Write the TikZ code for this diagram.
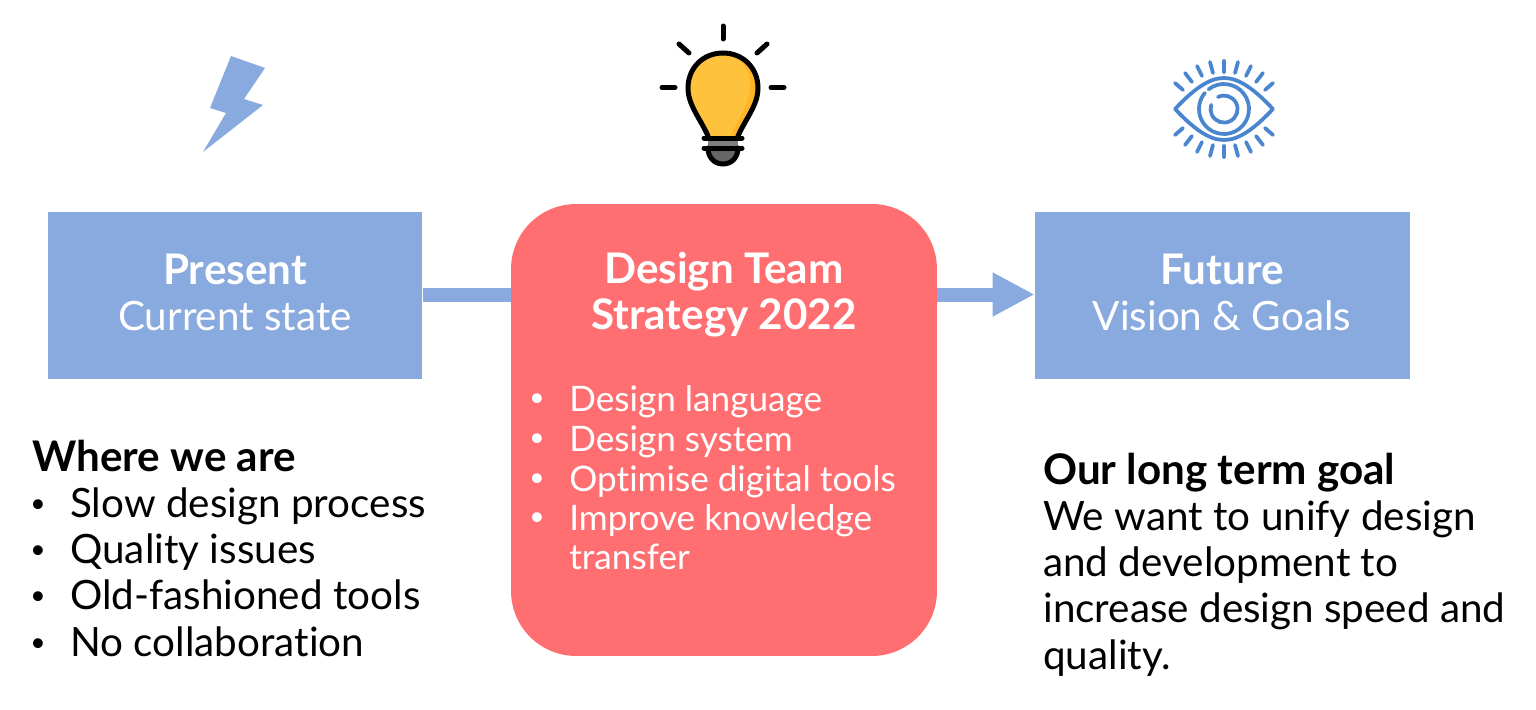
\documentclass[tikz,border=0pt]{standalone}
\usepackage{fontspec}
\setmainfont{Lato}[Ligatures=NoCommon]
\usetikzlibrary{arrows.meta, calc}
\definecolor{boxblue}{HTML}{88AADF}
\definecolor{stratcoral}{HTML}{FF6F72}
\definecolor{bulbyellow}{HTML}{FFC23C}
\definecolor{bulbshade}{HTML}{FFB326}
\definecolor{eyeblue}{HTML}{4A86D0}
\tikzset{
  bluebox/.style={fill=boxblue, minimum width=7.5cm, minimum height=3.34cm, inner sep=0pt},
  boxlabel/.style={anchor=base, inner sep=0pt, text=white, align=center, font=\fontsize{23}{26}\selectfont},
  stratbox/.style={fill=stratcoral, rounded corners=1.3cm, minimum width=8.52cm, minimum height=9.04cm, inner sep=0pt},
  flowline/.style={boxblue, line width=0.28cm},
  bodytext/.style={anchor=base west, inner sep=0pt, font=\fontsize{23}{23}\selectfont},
  headtext/.style={bodytext, font=\fontsize{24}{24}\selectfont\bfseries},
  bodydot/.style={anchor=base, inner sep=0pt, yshift=0.1cm, font=\fontsize{15}{15}\selectfont},
  whitetext/.style={anchor=base west, inner sep=0pt, text=white, font=\fontsize{20}{20}\selectfont},
  whitedot/.style={bodydot, text=white},
  bulbline/.style={black, line width=0.1cm, line cap=round},
  eyeline/.style={eyeblue, line width=0.075cm, line cap=round}
}

\begin{document}
\begin{tikzpicture}[x=0.02cm, y=-0.02cm]
  \useasboundingbox (0,0) rectangle (1536,710);

  % Boxes
  \node[bluebox] (present) at (235,295.5) {};
  \node[bluebox] (future) at (1222.5,295.5) {};
  \node[stratbox] (strategy) at (724,430) {};
  \coordinate (flowlevel) at (0,294.5);

  % Connectors
  \draw[flowline] (present.east |- flowlevel) -- (strategy.west |- flowlevel);
  \draw[flowline, -{Triangle[length=0.84cm, width=0.82cm]}] (strategy.east |- flowlevel) -- (future.west |- flowlevel);

  % Box labels
  \node[boxlabel] (presentlabel) at (235,330.5) {{\fontsize{24}{26}\selectfont\bfseries Present}\\Current state};
  \node[boxlabel] (futurelabel) at (1222,330.5) {{\fontsize{24}{26}\selectfont\bfseries Future}\\Vision \& Goals};

  % Middle box text
  \node[anchor=base, inner sep=0pt, text=white, align=center, font=\fontsize{24}{26}\selectfont\bfseries] (strategytitle) at (724,329) {Design Team\\Strategy 2022};
  \foreach \i/\ypos/\txt in {1/411/Design language, 2/451/Design system, 3/491/Optimise digital tools, 4/530/Improve knowledge} {
    \node[whitedot] (stratdot\i) at (537,\ypos) {•};
    \node[whitetext] (stratitem\i) at (569,\ypos) {\txt};
  }
  \node[whitetext] (stratitem5) at (569,569) {transfer};

  % Left text
  \node[headtext] (lefthead) at (32,471) {Where we are};
  \foreach \i/\ypos/\txt in {1/517/Slow design process, 2/563/Quality issues, 3/609/Old-fashioned tools, 4/656/No collaboration} {
    \node[bodydot] (leftdot\i) at (38,\ypos) {•};
    \node[bodytext] (leftitem\i) at (70,\ypos) {\txt};
  }

  % Right text
  \node[headtext] (righthead) at (1043,484) {Our long term goal};
  \foreach \i/\ypos/\txt in {1/530/We want to unify design, 2/576/and development to, 3/622/increase design speed and, 4/669/quality.} {
    \node[bodytext] (rightline\i) at (1043,\ypos) {\txt};
  }

  % Lightning icon
  \fill[boxblue] (231,56) -- (265,68) -- (244,99) -- (263,105) -- (203,152) -- (226,113) -- (210,108) -- cycle;

  % Bulb icon
  \fill[bulbyellow] (708,136) .. controls (700,118) and (688,105) .. (688,88) .. controls (688,68) and (703,53) .. (723,53) .. controls (743,53) and (758,68) .. (758,88) .. controls (758,105) and (746,118) .. (738,136) -- cycle;
  \fill[bulbshade] (731,136) .. controls (738,118) and (750,105) .. (750,84) .. controls (750,70) and (742,60) .. (733,55) .. controls (748,58) and (758,72) .. (758,88) .. controls (758,105) and (746,118) .. (738,136) -- cycle;
  \fill[black!50] (708,138) rectangle (738,148);
  \fill[black!60] (708,148) .. controls (708,157) and (714,164) .. (723,164) .. controls (732,164) and (738,157) .. (738,148) -- cycle;
  \draw[bulbline] (708,136) .. controls (700,118) and (688,105) .. (688,88) .. controls (688,68) and (703,53) .. (723,53) .. controls (743,53) and (758,68) .. (758,88) .. controls (758,105) and (746,118) .. (738,136);
  \draw[bulbline] (704,138) -- (742,138);
  \draw[bulbline] (704,148) -- (742,148);
  \draw[bulbline] (708,148) .. controls (708,157) and (714,164) .. (723,164) .. controls (732,164) and (738,157) .. (738,148);
  \draw[bulbline] (723,26) -- (723,39);
  \draw[bulbline] (662,87.5) -- (675,87.5);
  \draw[bulbline] (771,87.5) -- (784,87.5);
  \draw[bulbline] (679,44) -- (689,53);
  \draw[bulbline] (767,44) -- (757,53);

  % Eye icon
  \begin{scope}[shift={(1224,109)}]
    \draw[eyeline, line join=round] (-49,0) .. controls (-30,-20) and (-15,-31) .. (0,-31) .. controls (15,-31) and (30,-20) .. (49,0) .. controls (30,20) and (15,31) .. (0,31) .. controls (-15,31) and (-30,20) .. (-49,0) -- cycle;
    \foreach \xa/\ya/\xb/\yb in {-49/26/-41/19, -39/36/-32/27, -27/43/-22/33, -14/47/-11/36, 0/48/0/37, 14/47/11/36, 27/43/22/33, 39/36/32/27, 49/26/41/19} {
      \draw[eyeline] (\xa,\ya) -- (\xb,\yb);
      \draw[eyeline] (\xa,-\ya) -- (\xb,-\yb);
    }
    \draw[eyeline] (-15.4,-19.7) arc[start angle=232, delta angle=348, radius=25];
    \draw[eyeline] (-6,-12) arc[start angle=243.4, delta angle=315, radius=13.5];
  \end{scope}
\end{tikzpicture}
\end{document}
